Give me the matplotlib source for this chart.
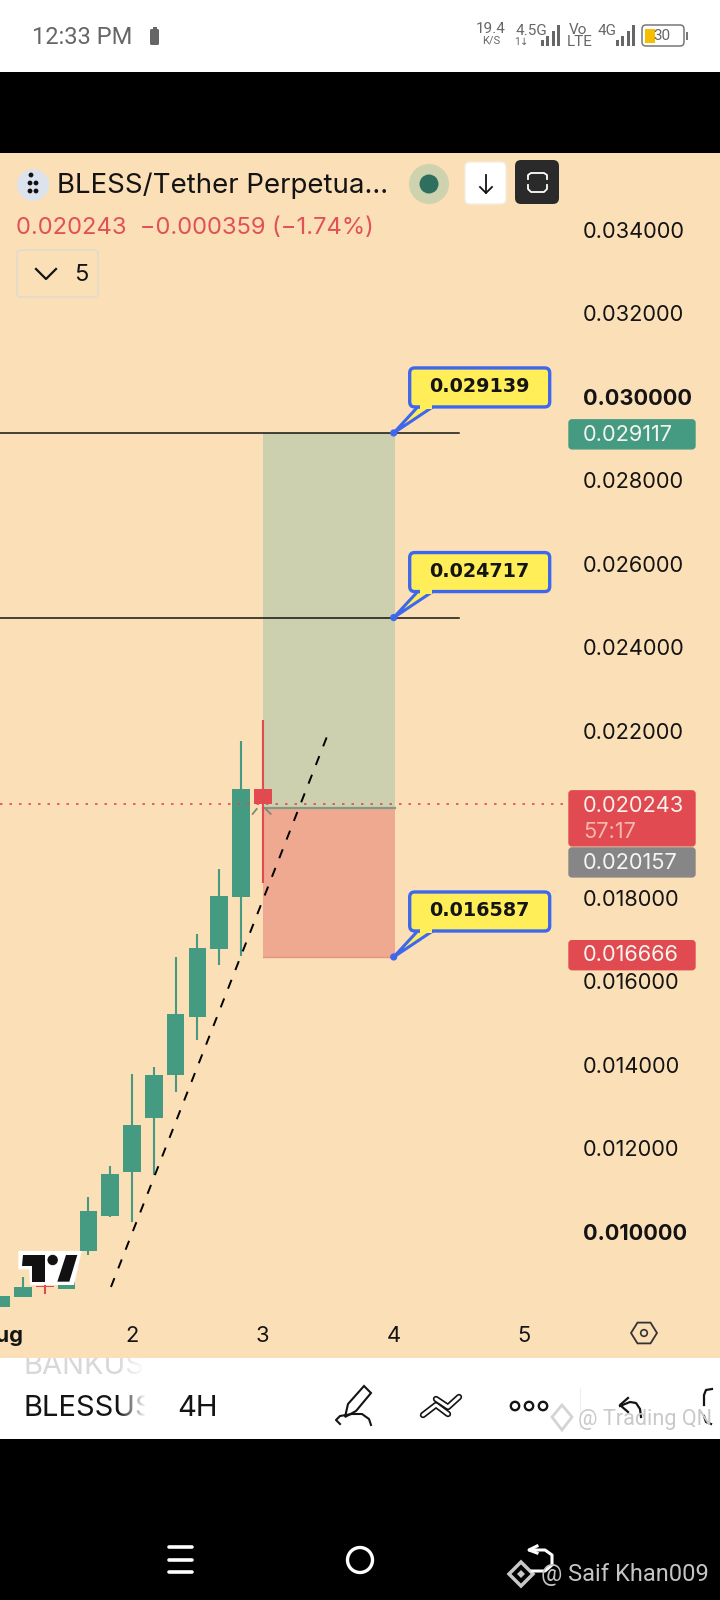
#!/usr/bin/env python

import matplotlib
matplotlib.use("Agg")
import matplotlib.pyplot as plt
import numpy as np
from matplotlib.patches import Circle, Ellipse, FancyBboxPatch, Polygon, Rectangle

plt.rcParams["font.family"] = ["Inter", "DejaVu Sans"]

# Candles, 4H each, starting on the 1st of Aug
opens = [0.008211, 0.008450, 0.008707, 0.008635, 0.009545, 0.010391, 0.011445,
         0.012738, 0.013753, 0.015157, 0.016771, 0.018031, 0.020602]
closes = [0.008467, 0.008690, 0.008683, 0.009138, 0.010503, 0.011397, 0.012556,
          0.013768, 0.015229, 0.016810, 0.018041, 0.020604, 0.020243]
highs = [0.008467, 0.008929, 0.008750, 0.009250, 0.010838, 0.011581, 0.013784,
         0.013960, 0.016594, 0.017131, 0.018687, 0.021753, 0.022264]
lows = [0.008211, 0.008450, 0.008515, 0.008635, 0.009449, 0.010359, 0.010247,
        0.011365, 0.013361, 0.014599, 0.016395, 0.016611, 0.018367]

y_ticks = [0.034, 0.032, 0.030, 0.028, 0.026, 0.024, 0.022, 0.018, 0.016,
           0.014, 0.012, 0.010]
bold_ticks = [0.030, 0.010]
x_ticks = [1, 2, 3, 4, 5]
x_labels = ["Aug", "2", "3", "4", "5"]

entry_price = 0.020157
target_1 = 0.024717
target_2 = 0.029139
stop_price = 0.016587
last_price = 0.020243
tp_badge = 0.029117
sl_badge = 0.016666
trend_x = [1.839, 3.4996]
trend_y = [0.008683, 0.021928]

GREEN = "#459A82"
RED = "#E04A50"
BG = "#FBDFB7"
BLUE = "#3F67EE"
YELLOW = "#FFEE58"
INK = "#141414"

fig = plt.figure(figsize=(7.2, 16), dpi=100, facecolor="white")
ax = fig.add_axes([0, (1600 - 1358) / 1600, 1, (1358 - 153) / 1600], facecolor=BG)
ax.set_xlim(0.990, 6.499)
ax.set_ylim(0.006982, 0.035844)
for s in ax.spines.values():
    s.set_visible(False)

# overlay in pixel coordinates for the phone UI
ui = fig.add_axes([0, 0, 1, 1], facecolor="none")
ui.set_xlim(0, 720)
ui.set_ylim(1600, 0)
ui.axis("off")


def to_px(x, y):
    px, py = ax.transData.transform((x, y))
    return px, 1600 - py


# axes ticks sit inside the panel, like the app
ax.yaxis.tick_right()
ax.set_yticks(y_ticks)
ax.set_yticklabels([f"{t:.6f}" for t in y_ticks], fontsize=15.7, color=INK)
ax.tick_params(axis="y", length=0, pad=-98.6)
for lab, t in zip(ax.get_yticklabels(), y_ticks):
    if round(t, 3) in bold_ticks:
        lab.set_fontweight("bold")
ax.set_xticks(x_ticks)
ax.set_xticklabels(x_labels, fontsize=15.8, color=INK)
ax.tick_params(axis="x", length=0, pad=-23)
ax.get_xticklabels()[0].set_fontweight("bold")

# long / short position tool
ax.fill_between([3, 4.01], entry_price, target_2, color="#CDD0AE", lw=0, zorder=1)
ax.fill_between([3, 4.01], stop_price, entry_price, color="#EFA991", lw=0, zorder=1)
ax.plot([3, 4.01], [entry_price, entry_price], color="#7F9A85", lw=1.6, zorder=2)
ax.plot([3, 4.01], [stop_price, stop_price], color="#E89488", lw=1, zorder=2)

# target lines
for level in [target_1, target_2]:
    ax.plot([ax.get_xlim()[0], 4.5], [level, level], color=INK, lw=1.1, zorder=2)

# candles
days = 1 + np.arange(len(opens)) / 6
colors = [GREEN if c >= o else RED for o, c in zip(opens, closes)]
ax.vlines(days, lows, highs, colors=colors, lw=1.5, zorder=3)
ax.bar(days, np.array(closes) - np.array(opens), bottom=opens, width=0.135,
       color=colors, lw=0, zorder=3)

# last price line and trend line
ax.plot([ax.get_xlim()[0], 3 + (568 - 263) / 130.7], [last_price, last_price], color=RED,
        lw=1.2, ls=(0, (1.5, 4.2)), zorder=4)
ax.plot(trend_x, trend_y, color="black", lw=1.4, ls=(0, (4.9, 5.4)), zorder=5)

# little grey ticks at the entry
ex, ey = to_px(3, entry_price)
ui.plot([ex - 10, ex - 6], [ey + 6, ey + 1], color="#808878", lw=1.3)
ui.plot([ex + 3, ex + 8], [ey + 1, ey + 6], color="#808878", lw=1.3)


def badge(y0, y1, color):
    ui.add_patch(FancyBboxPatch((569, y0 + 1), 126, y1 - y0 - 2,
                                boxstyle="round,pad=0,rounding_size=3", fc=color, ec=color, lw=1))


_, yy = to_px(3, tp_badge)
badge(yy - 15, yy + 16, GREEN)
ui.text(583, yy + 1, f"{tp_badge:.6f}", color="#F5F5F0", fontsize=15.7, va="center", ha="left")
_, yy = to_px(3, sl_badge)
badge(yy - 14, yy + 17, RED)
ui.text(583, yy + 1.5, f"{sl_badge:.6f}", color="#F5F5F0", fontsize=15.7, va="center", ha="left")
_, yy = to_px(3, last_price)
badge(yy - 14.5, yy + 42.5, RED)
ui.text(583, yy + 2, f"{last_price:.6f}", color="#F8F2EC", fontsize=15.7, va="center", ha="left")
ui.text(583, yy + 28, "57:17", color="#F5B8AE", fontsize=15.7, va="center", ha="left")
_, yy = to_px(3, entry_price)
badge(yy + 39, yy + 70, "#868686")
ui.text(583, yy + 55, f"{entry_price:.6f}", color="#F5F5F5", fontsize=15.7, va="center", ha="left")


# callouts
def callout(price):
    px, py = to_px(4.01, price)
    px -= 1
    ui.add_patch(Polygon([(px + 24, py - 26), (px + 39, py - 26), (px, py)], closed=True,
                         fc=YELLOW, ec=BLUE, lw=2.2, zorder=5, joinstyle="round"))
    ui.add_patch(FancyBboxPatch((px + 16, py - 65), 140, 39, boxstyle="round,pad=0,rounding_size=5",
                                fc=YELLOW, ec=BLUE, lw=2.4, zorder=6))
    ui.add_patch(Rectangle((px + 26, py - 29), 12, 5, fc=YELLOW, ec="none", zorder=7))
    ui.add_patch(Circle((px, py), 3.6, fc=BLUE, ec="none", zorder=8))
    ui.text(px + 86, py - 46, f"{price:.6f}", family="DejaVu Sans", fontsize=13.8, fontweight="bold",
            color=INK, ha="center", va="center", zorder=9)


for level in [target_2, target_1, stop_price]:
    callout(level)

# tradingview logo
ui.add_patch(Polygon(np.array([(55, 753), (245, 753), (222, 855), (90, 855), (88, 808), (55, 808)]) / 3 + [0, 1000],
                     closed=True, fc="white", ec="none", zorder=6))
ui.add_patch(Polygon(np.array([(68, 765), (135, 765), (135, 845), (97, 845), (97, 798), (65, 798)]) / 3 + [0, 1000],
                     closed=True, fc="#111111", ec="none", zorder=7))
ui.add_patch(Circle((158 / 3, 1000 + 780 / 3), 5.2, fc="#111111", ec="none", zorder=7))
ui.add_patch(Polygon(np.array([(172, 845), (208, 845), (232, 765), (198, 765)]) / 3 + [0, 1000],
                     closed=True, fc="#111111", ec="none", zorder=7))

# settings hexagon
ang = np.radians(np.arange(0, 360, 60))
ui.add_patch(Polygon(np.c_[644 + 13 * np.cos(ang), 1333 + 12 * np.sin(ang)], closed=True,
                     fc="none", ec="#333333", lw=1.3))
ui.add_patch(Circle((644, 1333), 3.3, fc="none", ec="#333333", lw=1.2))

# status bar and black bands
ui.add_patch(Rectangle((0, 72), 720, 81, fc="black", ec="none"))
ui.add_patch(Rectangle((0, 1439), 720, 161, fc="black", ec="none"))
ui.text(32, 37, "12:33 PM", family="Roboto", fontsize=17, color="#666666", va="center")
ui.add_patch(FancyBboxPatch((150, 29), 9, 16, boxstyle="round,pad=0,rounding_size=1.5", fc="#666666", ec="none"))
ui.add_patch(Rectangle((152.5, 27), 4, 3, fc="#666666", ec="none"))
grey = "#666666"
ui.text(491, 29, "19.4", family="Roboto", fontsize=11, color=grey, ha="center", va="center")
ui.text(491, 41, "K/S", family="Roboto", fontsize=8, color=grey, ha="center", va="center")
ui.text(531, 31, "4.5G", family="Roboto", fontsize=11, color=grey, ha="center", va="center")
ui.text(521, 42, "1↓", family=["Roboto", "DejaVu Sans"], fontsize=7.5, color=grey, ha="center", va="center")
ui.text(578, 30, "Vo", family="Roboto", fontsize=11, color=grey, ha="center", va="center")
ui.text(580, 42, "LTE", family="Roboto", fontsize=11, color=grey, ha="center", va="center")
ui.text(607, 31, "4G", family="Roboto", fontsize=11, color=grey, ha="center", va="center")
for x0 in [541, 616]:
    for k, h in enumerate([6, 10, 15, 21]):
        ui.add_patch(Rectangle((x0 + k * 5.4, 46 - h), 3, h, fc=grey, ec="none"))
ui.add_patch(FancyBboxPatch((642, 25), 42, 21, boxstyle="round,pad=0,rounding_size=4", fc="white", ec="#777777", lw=1.1))
ui.add_patch(Rectangle((645, 29), 10, 14, fc="#F6BE00", ec="none"))
ui.add_patch(Rectangle((685.5, 32), 2, 8, fc="#777777", ec="none"))
ui.text(662, 36, "30", family="Roboto", fontsize=11, color=grey, ha="center", va="center")

# chart header
ui.add_patch(Circle((33, 185), 16, fc="#DCE3EC", ec="none"))
for dx, dy in [(-2, -10), (-3, -2), (3, -2), (-3, 6), (3, 6)]:
    ui.add_patch(Circle((33 + dx, 185 + dy), 2.4, fc="#111111", ec="none"))
ui.text(57, 186, "BLESS/Tether Perpetua...", fontsize=19.9, color=INK, va="center", ha="left")
ui.add_patch(Ellipse((429, 184), 40, 40, fc="#CFD2AE", ec="none"))
ui.add_patch(Circle((429, 184), 9.5, fc="#2F6F5E", ec="none"))
ui.add_patch(FancyBboxPatch((465, 162), 41, 42, boxstyle="round,pad=0,rounding_size=5", fc="white", ec="#F3EEE2", lw=1))
ui.plot([486, 486], [175, 193], color=INK, lw=1.3)
ui.plot([480, 486, 492], [187, 193, 187], color=INK, lw=1.3)
ui.add_patch(FancyBboxPatch((515, 160), 44, 44, boxstyle="round,pad=0,rounding_size=6", fc="#2A2A2A", ec="none"))
ui.plot([528, 528, 531, 544, 547, 547], [179, 175, 173, 173, 175, 179], color="white", lw=1.3)
ui.plot([528, 528, 531, 544, 547, 547], [185, 189, 192, 192, 189, 185], color="white", lw=1.3)
ui.text(16, 228, "0.020243  −0.000359 (−1.74%)", fontsize=17.1, color="#E05258", va="center", ha="left")
ui.add_patch(FancyBboxPatch((17, 250), 81, 47, boxstyle="round,pad=0,rounding_size=4", fc="none", ec="#E2DCC8", lw=1.3))
ui.plot([36, 46, 56], [269, 279, 269], color=INK, lw=1.6)
ui.text(81, 275, "5", fontsize=17, color=INK, ha="center", va="center")

# toolbar under the chart
clip = Rectangle((0, 1358), 145, 81, transform=ui.transData)
for txt, y, col in [("BANKUS", 1367, "#D8D8D8"), ("BLESSUS", 1408, INK)]:
    t = ui.text(23, y, txt, fontsize=21, color=col, va="center", ha="left", clip_on=True)
    t.set_clip_path(clip)
fade = np.ones((1, 40, 4))
fade[..., 3] = np.linspace(0, 1, 40)
ui.imshow(fade, extent=(118, 146, 1439, 1358), aspect="auto", zorder=3)
ui.set_xlim(0, 720)
ui.set_ylim(1600, 0)
ui.text(177, 1408, "4H", fontsize=21, color=INK, va="center", ha="left")

# pen icon
ui.add_patch(Polygon([(345, 1417), (348, 1404), (364, 1386), (371, 1393), (356, 1411)], closed=True,
                     fc="none", ec=INK, lw=1.5))
ui.plot([340, 336, 340, 352, 362, 369, 371], [1424, 1420, 1416, 1414, 1414, 1419, 1425], color=INK, lw=1.5)
# chevrons icon
for xs, ys in [([423, 436, 448], [1415, 1405, 1414]), ([436, 448, 459], [1399, 1407, 1397])]:
    ui.plot(xs, ys, color=INK, lw=4.6, solid_capstyle="round", solid_joinstyle="round")
    ui.plot(xs, ys, color="white", lw=2.2, solid_capstyle="round", solid_joinstyle="round")
for cx in [515, 529, 543]:
    ui.add_patch(Circle((cx, 1406), 4.2, fc="none", ec=INK, lw=1.7))
ui.plot([580, 580], [1388, 1428], color="#EEEEEE", lw=0.8)
ui.plot([620, 630, 636, 640, 641], [1406, 1402, 1403, 1409, 1417], color=INK, lw=1.6)
ui.plot([628, 620, 628], [1398, 1405, 1412], color=INK, lw=1.6)
ui.plot([712, 706, 704, 704], [1389, 1390, 1395, 1405], color=INK, lw=1.6)
ui.plot([704, 706, 711], [1416, 1422, 1424], color=INK, lw=1.6)
ui.add_patch(Polygon([(562, 1405), (572, 1417), (562, 1430), (552, 1417)], closed=True, fc="none", ec="#D4D4D4", lw=2))
ui.text(578, 1419, "@ Trading QN", family="Roboto", fontsize=15.6, color="#C9C9C9", va="center", ha="left")

# navigation bar
for yy in [1547, 1560, 1572]:
    ui.plot([169, 192], [yy, yy], color="white", lw=2.6, solid_capstyle="round")
ui.add_patch(Circle((360, 1560), 12.5, fc="none", ec="white", lw=2.4))
ui.plot([530, 545, 552, 552, 545, 532], [1550, 1550, 1555, 1565, 1571, 1571], color="white", lw=2.2)
ui.plot([537, 529, 537], [1546, 1550, 1553], color="white", lw=2.2)
ui.add_patch(Polygon([(521, 1562), (533, 1574), (521, 1586), (509, 1574)], closed=True, fc="black", ec="#C8C8C8", lw=2.5))
ui.add_patch(Polygon([(521, 1570), (525, 1574), (521, 1578), (517, 1574)], closed=True, fc="#C8C8C8", ec="none"))
ui.text(541, 1574, "@ Saif Khan009", family="Roboto", fontsize=17, color="#C4C4C4", va="center", ha="left")

fig.savefig("out.png", dpi=100)
